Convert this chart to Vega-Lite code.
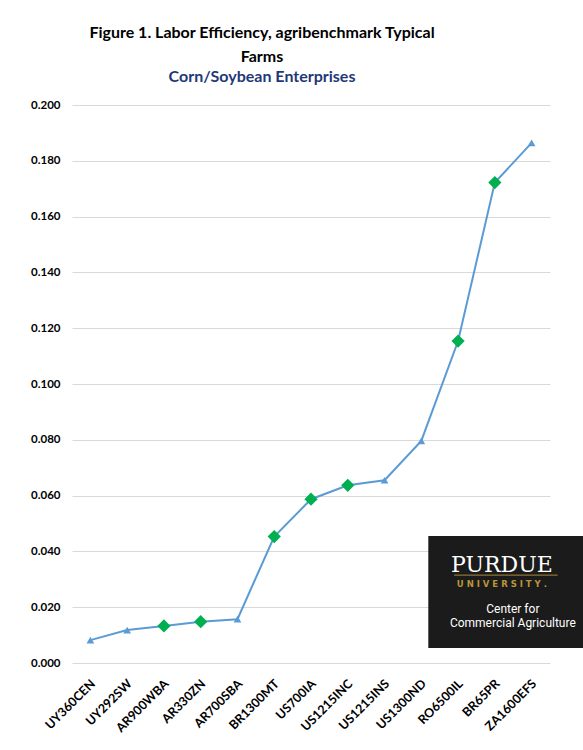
{
  "$schema": "https://vega.github.io/schema/vega-lite/v6.json",
  "width": 478,
  "height": 558,
  "autosize": "none",
  "padding": {"left": 72, "top": 105, "right": 33, "bottom": 87},
  "background": "white",
  "config": {"view": {"stroke": null}, "font": "Lato"},

  "title": {
    "text": ["Figure 1. Labor Efficiency, agribenchmark Typical", "Farms"],
    "subtitle": "Corn/Soybean Enterprises",
    "font": "Lato",
    "fontSize": 16,
    "fontWeight": "bold",
    "color": "black",
    "lineHeight": 24,
    "subtitleFont": "Lato",
    "subtitleFontSize": 16,
    "subtitleFontWeight": "bold",
    "subtitleColor": "#1f3879",
    "subtitlePadding": 4,
    "anchor": "middle",
    "frame": "group",
    "dx": -49,
    "offset": 14
  },

  "datasets": {
    "farms": [
      {"farm": "UY360CEN", "labor": 0.0082, "group": "other"},
      {"farm": "UY292SW", "labor": 0.0118, "group": "other"},
      {"farm": "AR900WBA", "labor": 0.0133, "group": "highlight"},
      {"farm": "AR330ZN", "labor": 0.0148, "group": "highlight"},
      {"farm": "AR700SBA", "labor": 0.0157, "group": "other"},
      {"farm": "BR1300MT", "labor": 0.0453, "group": "highlight"},
      {"farm": "US700IA", "labor": 0.0587, "group": "highlight"},
      {"farm": "US1215INC", "labor": 0.0637, "group": "highlight"},
      {"farm": "US1215INS", "labor": 0.0655, "group": "other"},
      {"farm": "US1300ND", "labor": 0.0796, "group": "other"},
      {"farm": "RO6500IL", "labor": 0.1154, "group": "highlight"},
      {"farm": "BR65PR", "labor": 0.1722, "group": "highlight"},
      {"farm": "ZA1600EFS", "labor": 0.1864, "group": "other"}
    ]
  },

  "layer": [
    {
      "data": {"name": "farms"},
      "mark": {"type": "line", "color": "#5b9bd5", "strokeWidth": 2},
      "encoding": {
        "x": {
          "field": "farm",
          "type": "nominal",
          "sort": null,
          "scale": {"type": "point", "padding": 0.5},
          "axis": {
            "title": null,
            "labelAngle": -45,
            "labelFont": "Lato",
            "labelFontWeight": "bold",
            "labelFontSize": 12.5,
            "labelColor": "black",
            "labelPadding": 14,
            "labelOffset": -2,
            "ticks": false,
            "domain": false,
            "grid": false
          }
        },
        "y": {
          "field": "labor",
          "type": "quantitative",
          "scale": {"domain": [0, 0.2], "nice": false},
          "axis": {
            "title": null,
            "tickCount": 10,
            "format": ".3f",
            "labelFont": "Lato",
            "labelFontWeight": "bold",
            "labelFontSize": 11.5,
            "labelColor": "black",
            "labelPadding": 12,
            "ticks": false,
            "domain": false,
            "gridColor": "#d9d9d9",
            "gridWidth": 1.2
          }
        }
      }
    },
    {
      "data": {"name": "farms"},
      "mark": {"type": "point", "filled": true, "opacity": 1},
      "encoding": {
        "x": {"field": "farm", "type": "nominal", "sort": null},
        "y": {"field": "labor", "type": "quantitative"},
        "shape": {
          "field": "group",
          "type": "nominal",
          "scale": {"domain": ["other", "highlight"], "range": ["triangle-up", "diamond"]},
          "legend": null
        },
        "color": {
          "field": "group",
          "type": "nominal",
          "scale": {"domain": ["other", "highlight"], "range": ["#5b9bd5", "#00b050"]},
          "legend": null
        },
        "size": {
          "field": "group",
          "type": "nominal",
          "scale": {"domain": ["other", "highlight"], "range": [60, 175]},
          "legend": null
        }
      }
    },
    {
      "data": {"values": [{"logo": "Purdue"}]},
      "mark": {"type": "rect", "color": "#1b1b1b", "xOffset": 7, "x2Offset": 53},
      "encoding": {
        "x": {"datum": "US1300ND", "type": "nominal"},
        "x2": {"datum": "ZA1600EFS"},
        "y": {"datum": 0.0455, "type": "quantitative"},
        "y2": {"datum": 0.0054}
      }
    },
    {
      "data": {"values": [{"label": "PURDUE"}]},
      "mark": {"type": "text", "font": "DejaVu Serif", "fontSize": 22, "color": "white", "align": "center", "baseline": "alphabetic", "dx": 7},
      "encoding": {
        "x": {"datum": "BR65PR", "type": "nominal"},
        "y": {"datum": 0.0327, "type": "quantitative"},
        "text": {"field": "label"}
      }
    },
    {
      "data": {"values": [{"logo": "Purdue"}]},
      "mark": {"type": "rule", "color": "#a88a3a", "strokeWidth": 1, "xOffset": -4, "x2Offset": 26},
      "encoding": {
        "x": {"datum": "RO6500IL", "type": "nominal"},
        "x2": {"datum": "ZA1600EFS"},
        "y": {"datum": 0.0315, "type": "quantitative"}
      }
    },
    {
      "data": {"values": [{"label": "U N I V E R S I T Y ."}]},
      "mark": {"type": "text", "font": "DejaVu Sans", "fontSize": 8.5, "fontWeight": "bold", "color": "#b8963a", "align": "center", "baseline": "alphabetic", "dx": 7},
      "encoding": {
        "x": {"datum": "BR65PR", "type": "nominal"},
        "y": {"datum": 0.0273, "type": "quantitative"},
        "text": {"field": "label"}
      }
    },
    {
      "data": {"values": [{"label": "Center for"}]},
      "mark": {"type": "text", "font": "Roboto", "fontSize": 12, "color": "white", "align": "center", "baseline": "alphabetic", "dx": 18},
      "encoding": {
        "x": {"datum": "BR65PR", "type": "nominal"},
        "y": {"datum": 0.0179, "type": "quantitative"},
        "text": {"field": "label"}
      }
    },
    {
      "data": {"values": [{"label": "Commercial Agriculture"}]},
      "mark": {"type": "text", "font": "Roboto", "fontSize": 12, "color": "white", "align": "center", "baseline": "alphabetic", "dx": 18},
      "encoding": {
        "x": {"datum": "BR65PR", "type": "nominal"},
        "y": {"datum": 0.0129, "type": "quantitative"},
        "text": {"field": "label"}
      }
    }
  ]
}
